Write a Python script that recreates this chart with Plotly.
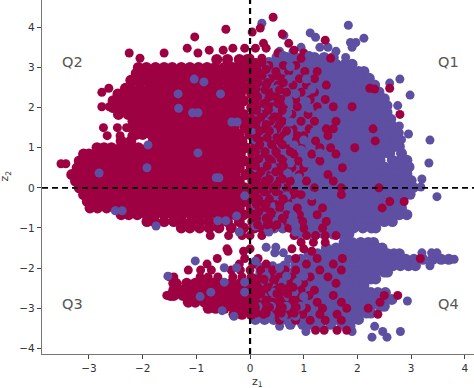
import plotly.graph_objects as go

# Each row: (z2, [z1 values])
blue_fill_rows = [
 (3.25,[0.5,0.68,0.85,1.02,1.2,1.38,1.55]),
 (3.08,[0.12,0.3,0.46,0.62,0.78,0.95,1.1,1.27,1.43,1.6,1.77,1.9]),
 (2.9,[0.2,0.36,0.53,0.7,0.86,1.02,1.18,1.35,1.52,1.68,1.85,2.02,2.12]),
 (2.73,[0.12,0.28,0.45,0.6,0.77,0.94,1.1,1.27,1.44,1.6,1.76,1.93,2.1,2.22]),
 (2.56,[0.2,0.37,0.53,0.69,0.86,1.02,1.19,1.35,1.52,1.68,1.85,2.01,2.18,2.32]),
 (2.39,[0.11,0.28,0.45,0.62,0.78,0.95,1.11,1.27,1.44,1.6,1.77,1.93,2.1,2.27,2.4]),
 (2.22,[0.2,0.36,0.53,0.7,0.86,1.03,1.19,1.35,1.52,1.69,1.85,2.02,2.18,2.35,2.5]),
 (2.05,[0.12,0.28,0.45,0.61,0.78,0.94,1.11,1.27,1.44,1.6,1.77,1.94,2.1,2.26,2.43,2.55]),
 (1.88,[0.2,0.37,0.53,0.7,0.86,1.03,1.19,1.36,1.52,1.68,1.85,2.02,2.18,2.32,2.42,2.55]),
 (1.71,[0.11,0.28,0.45,0.61,0.78,0.94,1.11,1.27,1.44,1.6,1.77,1.93,2.1,2.22,2.36,2.5,2.62]),
 (1.54,[0.2,0.36,0.53,0.69,0.86,1.02,1.19,1.35,1.52,1.68,1.85,2.02,2.16,2.3,2.38,2.5,2.65]),
 (1.37,[0.12,0.28,0.44,0.61,0.78,0.94,1.1,1.27,1.43,1.6,1.77,1.93,2.08,2.22,2.36,2.5,2.65]),
 (1.2,[0.2,0.36,0.53,0.7,0.86,1.02,1.19,1.35,1.52,1.68,1.85,2.01,2.15,2.3,2.42,2.55,2.72]),
 (1.03,[0.11,0.28,0.44,0.61,0.77,0.94,1.1,1.27,1.43,1.6,1.76,1.93,2.1,2.24,2.38,2.5,2.68,2.78]),
 (0.86,[0.2,0.36,0.53,0.69,0.86,1.02,1.19,1.35,1.52,1.68,1.85,2.01,2.18,2.32,2.46,2.6,2.82]),
 (0.69,[0.12,0.28,0.44,0.61,0.77,0.94,1.1,1.27,1.43,1.6,1.76,1.93,2.1,2.26,2.42,2.65,2.8,2.92]),
 (0.52,[0.2,0.36,0.53,0.69,0.86,1.02,1.19,1.35,1.52,1.68,1.85,2.01,2.18,2.34,2.5,2.67,2.85,2.96]),
 (0.35,[0.11,0.28,0.44,0.61,0.77,0.94,1.1,1.27,1.43,1.6,1.76,1.93,2.09,2.26,2.42,2.59,2.75,2.92]),
 (0.18,[0.2,0.36,0.53,0.69,0.86,1.02,1.19,1.35,1.52,1.68,1.85,2.01,2.18,2.34,2.5,2.67,2.83,3.0]),
 (0.01,[0.11,0.28,0.44,0.6,0.77,0.94,1.1,1.26,1.43,1.6,1.76,1.92,2.09,2.25,2.42,2.58,2.75,2.92,3.04]),
 (-0.16,[0.2,0.36,0.52,0.69,0.86,1.02,1.18,1.35,1.52,1.68,1.84,2.01,2.18,2.34,2.5,2.67,2.84,2.98]),
 (-0.33,[0.11,0.28,0.44,0.61,0.77,0.94,1.1,1.27,1.43,1.59,1.76,1.92,2.09,2.25,2.42,2.62,2.72,2.82]),
 (-0.5,[0.2,0.36,0.52,0.69,0.85,1.02,1.18,1.35,1.51,1.68,1.84,2.01,2.17,2.34,2.55,2.72,2.82]),
 (-0.67,[0.11,0.28,0.44,0.6,0.77,0.93,1.1,1.27,1.43,1.6,1.76,1.93,2.09,2.26,2.42,2.6,2.78,2.92]),
 (-0.84,[0.2,0.36,0.52,0.69,0.85,1.02,1.18,1.35,1.51,1.68,1.84,2.01,2.17,2.34,2.5,2.65]),
 (-1.0,[0.28,0.45,0.61,0.78,0.94,1.1,1.27,1.43,1.6,1.76,1.93,2.1,2.26,2.34]),
 (-1.15,[0.9,1.08,1.22,1.38,1.55,1.72,1.84]),
 (-1.36,[1.75,1.9,2.06,2.2,2.3]),
 (-1.5,[1.42,1.6,1.76,1.93,2.08,2.24,2.38,2.46]),
 (-1.64,[1.1,1.26,1.42,1.58,1.75,1.92,2.08,2.24,2.4,2.56,2.68,2.78]),
 (-1.78,[0.95,1.15,1.3,1.46,1.62,1.78,1.95,2.12,2.28,2.44,2.6,2.76,2.9,3.05,3.22,3.4,3.56,3.7]),
 (-1.94,[0.65,0.85,1.02,1.18,1.35,1.52,1.68,1.85,2.0,2.17,2.33,2.5,2.66,2.8,2.95,3.08]),
 (-2.1,[0.2,0.36,0.52,0.69,0.85,1.02,1.18,1.35,1.51,1.68,1.84,2.01,2.17,2.34,2.5,2.56]),
 (-2.27,[0.1,0.27,0.44,0.6,0.77,0.93,1.1,1.26,1.43,1.59,1.76,1.92,2.08,2.25,2.34]),
 (-2.44,[0.02,0.2,0.36,0.52,0.69,0.85,1.02,1.18,1.35,1.51,1.68,1.84,2.01,2.12]),
 (-2.61,[0.1,0.27,0.44,0.6,0.77,0.93,1.1,1.26,1.43,1.59,1.76,1.92,2.08,2.25,2.38,2.52]),
 (-2.78,[0.02,0.2,0.36,0.52,0.69,0.85,1.02,1.18,1.35,1.51,1.68,1.84,2.01,2.17,2.34,2.5,2.64]),
 (-2.95,[0.1,0.27,0.44,0.6,0.77,0.93,1.1,1.26,1.43,1.59,1.76,1.92,2.08,2.25,2.42,2.5]),
 (-3.12,[0.02,0.2,0.36,0.52,0.69,0.85,1.02,1.18,1.35,1.51,1.68,1.84,2.01,2.17,2.25]),
 (-3.28,[0.1,0.27,0.44,0.6,0.77,0.93,1.1,1.26,1.43,1.59,1.76,1.92,2.02]),
 (-3.4,[0.75,0.98,1.12,1.3,1.5,1.72]),
]

blue_dot_rows = [
 (4.1,[0.22]),(4.05,[1.83]),(3.86,[1.12]),(3.8,[0.63]),(3.75,[1.22]),(3.73,[2.12]),(3.62,[1.87,1.97]),
 (3.5,[0.95,1.3,1.45,1.9]),(3.4,[0.55,0.8,1.6]),(3.25,[1.78]),(3.15,[0.35,0.62,1.05]),
 (2.71,[2.79]),(2.61,[2.6]),(2.31,[2.98]),(2.05,[2.75]),(1.54,[2.78]),(1.37,[2.78]),(1.34,[2.95]),(1.2,[2.82]),(1.19,[3.35]),
 (0.62,[3.33]),(0.22,[3.2]),(0.02,[3.18]),(-0.22,[3.48]),
 (-1.48,[0.3,0.48]),(-1.62,[0.46,0.62,3.2,3.38,3.48]),(-1.78,[0.72,3.8]),(-1.94,[0.15,0.42,3.35]),
 (-2.82,[2.93]),(-3.45,[0.55,1.88,2.32]),(-3.58,[1.04,1.9,2.47,2.8]),(-3.72,[2.27,2.55]),
]

red_fill_rows = [
 (3.0,[-2.08,-1.93,-1.76,-1.6,-1.45,-1.28,-1.12,-0.96,-0.8,-0.65,-0.48,-0.32,-0.16,-0.02]),
 (3.2,[-0.62,-0.42,-0.2,-0.05]),
 (2.85,[-2.12,-2.02,-1.85,-1.69,-1.53,-1.37,-1.2,-1.04,-0.88,-0.72,-0.56,-0.4,-0.23,-0.07,0.05]),
 (2.68,[-2.22,-2.12,-1.95,-1.78,-1.62,-1.46,-1.3,-1.14,-0.97,-0.81,-0.65,-0.48,-0.32,-0.16,0.02]),
 (2.48,[-2.32,-2.22,-2.05,-1.88,-1.72,-1.56,-1.4,-1.23,-1.07,-0.9,-0.74,-0.58,-0.41,-0.25,-0.08,0.08]),
 (2.34,[-2.46,-2.32,-2.15,-1.98,-1.82,-1.65,-1.49,-1.33,-1.17,-1.0,-0.84,-0.68,-0.52,-0.35,-0.18,0.03]),
 (2.17,[-2.55,-2.42,-2.25,-2.08,-1.92,-1.76,-1.6,-1.43,-1.27,-1.1,-0.94,-0.78,-0.62,-0.45,-0.28,-0.12,0.08]),
 (2.0,[-2.55,-2.48,-2.32,-2.17,-2.0,-1.84,-1.68,-1.52,-1.36,-1.19,-1.03,-0.87,-0.7,-0.54,-0.38,-0.2,0.03]),
 (1.83,[-2.45,-2.27,-2.1,-1.93,-1.77,-1.6,-1.44,-1.28,-1.11,-0.95,-0.79,-0.62,-0.46,-0.3,-0.12,0.08]),
 (1.66,[-2.18,-2.03,-1.87,-1.7,-1.53,-1.37,-1.2,-1.04,-0.88,-0.71,-0.55,-0.39,-0.22,-0.05,0.1]),
 (1.5,[-2.2,-2.1,-1.93,-1.77,-1.6,-1.44,-1.28,-1.11,-0.95,-0.79,-0.62,-0.46,-0.3,-0.1,0.08]),
 (1.33,[-2.12,-2.0,-1.84,-1.67,-1.5,-1.34,-1.18,-1.02,-0.85,-0.69,-0.53,-0.36,-0.2,0.0]),
 (1.17,[-2.4,-2.22,-1.8,-1.62,-1.46,-1.3,-1.13,-0.97,-0.8,-0.64,-0.48,-0.31,-0.15,0.08]),
 (1.0,[-2.85,-2.72,-2.58,-2.41,-2.25,-2.08,-1.9,-1.72,-1.56,-1.4,-1.23,-1.07,-0.9,-0.74,-0.58,-0.41,-0.25,-0.08,0.1]),
 (0.84,[-3.1,-3.0,-2.83,-2.66,-2.5,-2.33,-2.17,-2.0,-1.84,-1.67,-1.5,-1.34,-1.17,-1.01,-0.85,-0.68,-0.52,-0.35,-0.18,0.05]),
 (0.67,[-3.18,-3.08,-2.92,-2.75,-2.58,-2.42,-2.25,-2.09,-1.93,-1.76,-1.6,-1.43,-1.27,-1.1,-0.94,-0.77,-0.61,-0.44,-0.28,-0.1,0.08]),
 (0.5,[-3.22,-3.17,-3.0,-2.84,-2.67,-2.5,-2.34,-2.18,-2.01,-1.85,-1.68,-1.52,-1.35,-1.19,-1.02,-0.86,-0.69,-0.53,-0.36,-0.2,0.02]),
 (0.33,[-3.32,-3.22,-3.08,-2.92,-2.75,-2.59,-2.42,-2.26,-2.09,-1.93,-1.76,-1.6,-1.43,-1.27,-1.1,-0.94,-0.77,-0.61,-0.44,-0.28,-0.08,0.1]),
 (0.17,[-3.25,-3.17,-3.0,-2.84,-2.67,-2.51,-2.34,-2.18,-2.01,-1.85,-1.68,-1.52,-1.35,-1.19,-1.02,-0.86,-0.69,-0.53,-0.36,-0.2,0.05]),
 (0.0,[-3.18,-3.08,-2.92,-2.75,-2.59,-2.42,-2.26,-2.09,-1.93,-1.76,-1.6,-1.43,-1.27,-1.1,-0.94,-0.77,-0.61,-0.44,-0.28,-0.1,0.08]),
 (-0.17,[-3.1,-3.0,-2.84,-2.67,-2.51,-2.34,-2.18,-2.01,-1.85,-1.68,-1.52,-1.35,-1.19,-1.02,-0.86,-0.69,-0.53,-0.36,-0.2,0.0]),
 (-0.34,[-3.03,-2.92,-2.75,-2.59,-2.42,-2.26,-2.09,-1.93,-1.76,-1.6,-1.43,-1.27,-1.1,-0.94,-0.77,-0.61,-0.44,-0.28,-0.1,0.05]),
 (-0.5,[-2.98,-2.84,-2.67,-2.51,-2.34,-2.18,-2.01,-1.85,-1.68,-1.52,-1.35,-1.19,-1.02,-0.86,-0.69,-0.53,-0.36,-0.2,0.02]),
 (-0.67,[-2.4,-2.26,-2.1,-1.93,-1.77,-1.6,-1.44,-1.27,-1.1,-0.94,-0.78,-0.61,-0.44,-0.28,-0.12,0.05]),
 (-0.84,[-1.92,-1.78,-1.6,-1.42,-1.27,-1.1,-0.94,-0.77,-0.6,-0.42,-0.2,0.05]),
 (-1.0,[-1.28,-1.12,-0.94,-0.76,-0.58,-0.35,-0.12,0.08]),
 (-2.38,[-1.42,-1.38,-1.18,-1.02,-0.85,-0.68,-0.52,-0.35,-0.18,0.0]),
 (-2.55,[-1.42,-1.3,-1.13,-0.96,-0.8,-0.64,-0.47,-0.3,-0.13,0.05]),
 (-2.68,[-1.48,-1.42,-1.25,-1.08,-0.92,-0.75,-0.58,-0.42,-0.25,-0.08,0.05]),
 (-2.85,[-1.15,-1.02,-0.85,-0.68,-0.52,-0.35,-0.18,-0.02]),
 (-3.0,[-0.78,-0.64,-0.48,-0.3,-0.12,0.06]),
 (-3.15,[-0.3,-0.15,0.02]),
]

red_dot_rows = [
 (4.25,[0.43]),(3.98,[0.19]),(3.95,[-0.45]),(3.88,[0.04]),(3.83,[0.6]),(3.76,[-1.03]),(3.68,[1.4]),
 (3.6,[0.25,0.72]),(3.48,[-1.17,-0.32,-0.1,0.1,0.3]),(3.43,[-0.76,-0.5,0.82]),(3.36,[-2.25,-1.6,-0.97,0.52,1.0]),
 (3.23,[-2.05,0.0,0.22,0.95,1.5]),(3.05,[0.12,0.35,0.62,0.85]),(2.9,[0.22,0.48,0.72,1.02,1.25]),
 (2.72,[0.12,0.38,0.6,0.92,1.2]),(2.56,[0.3,0.52,0.8,1.05,1.42]),(2.48,[-2.63,2.23,2.6]),(2.46,[2.32]),
 (2.38,[-2.76,0.15,0.42,0.68,0.95,1.2]),(2.2,[0.3,0.58,0.85,1.12,1.4]),(2.02,[-2.76,-2.62,0.12,0.4,0.62,0.88,1.25,1.55,1.9]),
 (1.83,[0.25,0.52,0.78,1.08,2.79]),(1.66,[0.12,0.38,0.6,0.95,1.2,1.6]),(1.5,[-2.73,-2.47,-2.3]),(1.47,[0.28,0.5,0.8,1.1,1.42,1.55,2.29]),
 (1.3,[-2.66,-2.42,-2.2,0.12,0.4,0.62,0.88,1.0,1.45]),(1.17,[0.25,0.55,0.85,1.22,2.33]),(1.0,[0.12,0.42,0.68,0.95,1.3,1.5,1.95]),
 (0.84,[0.25,0.52,0.82,1.15,1.6]),(0.67,[0.12,0.4,0.62,0.9,1.3]),(0.6,[-3.52,-3.43]),(0.5,[0.25,0.52,0.78,1.0,1.72]),
 (0.33,[0.15,0.38,0.62,0.92,1.45]),(0.17,[0.28,0.52,0.75,1.05,1.55]),(0.0,[0.18,0.42,0.68,1.2,1.7,2.4]),
 (-0.17,[0.12,0.32,0.55,0.8,0.95,1.7]),(-0.34,[0.2,0.42,0.7,1.15,2.87,2.6]),(-0.5,[0.1,0.28,0.55,0.88,1.35,2.46]),
 (-0.67,[0.15,0.42,0.68,0.92,1.25]),(-0.84,[0.12,0.35,0.6,0.98,1.42]),
 (-1.0,[0.18,0.4,0.72,1.0,1.35]),(-1.19,[-0.74,-0.4,-0.15,0.0,0.22,0.82,1.05,1.22,1.4,1.6]),
 (-1.36,[0.95,1.18,1.4]),(-1.52,[-0.43,0.0,0.78,1.0]),(-1.58,[-0.41,-0.12,1.15]),
 (-1.76,[-0.61,-0.1,0.15,0.85,1.25,1.72,3.17]),(-1.9,[-0.8,-0.2,0.05,0.3,1.05,1.55]),
 (-2.05,[-1.15,-0.92,-0.72,-0.35,-0.18,0.0,0.2,0.42,0.65,0.85,1.3,1.7]),
 (-2.22,[-1.5,-1.42,-0.93,-0.78,-0.6,-0.32,-0.15,0.02,0.2,0.38,0.55,0.78,1.12,1.45]),
 (-2.38,[0.18,0.35,0.55,0.72,1.0,1.6]),(-2.55,[0.25,0.48,0.7,0.95,1.2]),
 (-2.68,[-1.55,0.12,0.32,0.58,0.85,1.1,1.55,2.5,2.75]),(-2.85,[0.2,0.42,0.65,0.9,1.25,1.7,2.42]),
 (-3.0,[0.28,0.52,0.78,1.05,1.35,1.8,2.2]),(-3.15,[0.25,0.48,0.7,0.98,1.3,1.62,2.38]),
 (-3.3,[0.55,0.85,1.12,1.4,1.7]),(-3.55,[1.22,1.38,1.62,1.8]),
]

blue_top_rows = [
 (3.3,[0.62,1.1]),(3.02,[0.28,0.75]),(2.71,[-1.04,0.28,0.72,1.05]),(2.64,[-0.86]),(2.46,[0.5,1.15]),
 (2.34,[-1.34,-0.55,0.22,0.85]),(2.15,[0.2,0.72,1.05]),(1.98,[-1.33,0.5,1.1]),
 (1.87,[-0.97,-1.07,0.15,0.7,1.3]),(1.64,[-0.34,-0.24,0.28,0.75]),(1.4,[0.1,0.42,0.72,1.2]),
 (1.19,[0.1,0.4,0.7,1.0]),(1.07,[-1.9,0.28,0.82]),(0.95,[0.38,0.95]),(0.87,[-0.97,0.12,0.65,1.3]),
 (0.62,[0.25,0.75,1.05]),(0.5,[-1.92,0.12,0.42,1.2]),(0.37,[-2.81,0.7,1.2]),(0.25,[-0.63,-0.58,0.4,0.9]),
 (0.05,[0.3,0.55,0.9]),(-0.2,[-0.1,0.22,0.45,0.68,1.15]),(-0.45,[0.1,0.4,0.72]),(-0.57,[-2.51,-2.38]),
 (-0.7,[-0.25,0.25,0.55,0.8]),(-0.82,[-0.6,-0.45,0.22,0.5,0.78]),(-0.95,[-1.75,0.1,0.55,0.85]),
 (-1.1,[-0.2,0.35,0.85]),(-1.82,[-1.02,0.1]),(-1.99,[-0.48,-0.25,0.55]),(-2.2,[-1.53,0.3,0.68,1.0]),
 (-2.35,[-0.48,-0.1,0.28,0.6,0.88]),(-2.6,[-0.73,-0.1,0.42,0.82]),(-2.71,[-0.93,0.25,0.7,1.0]),
 (-2.95,[0.15,0.4,0.68,0.95]),(-3.06,[-0.52]),(-3.2,[-0.3,0.38,0.62,0.85]),
]

red_mix_rows = [
 (3.12,[0.1,0.22]),(2.95,[0.12,0.3]),(2.8,[0.08,0.22,0.5]),(2.62,[0.15,0.32,0.62]),(2.44,[0.1,0.28,0.55]),
 (2.27,[0.14,0.36,0.48]),(2.1,[0.1,0.26,0.52]),(1.93,[0.12,0.34,0.6]),(1.76,[0.2,0.45]),(1.58,[0.1,0.3,0.55]),
 (1.42,[0.18,0.36,0.68]),(1.25,[0.12,0.32,0.5]),(1.08,[0.18,0.4,0.6]),(0.9,[0.1,0.28,0.48,0.75]),
 (0.72,[0.16,0.36,0.58]),(0.55,[0.1,0.32,0.62]),(0.4,[0.2,0.48]),(0.22,[0.12,0.36,0.6]),(0.06,[0.14,0.3,0.5]),
 (-0.1,[0.1,0.26,0.48,0.82]),(-0.28,[0.16,0.36,0.62]),(-0.42,[0.12,0.3,0.55]),(-0.6,[0.16,0.38]),
 (-0.76,[0.12,0.3,0.6]),(-0.92,[0.14,0.32,0.5]),
 (-2.28,[0.08,0.26,0.46]),(-2.48,[0.14,0.32,0.58,0.8]),(-2.64,[0.08,0.2,0.5,0.7]),(-2.8,[0.1,0.3,0.56,0.8]),
 (-2.98,[0.1,0.36,0.6,0.86]),(-3.12,[0.12,0.3,0.58,0.82]),
]

tick_x = [-3, -2, -1, 0, 1, 2, 3, 4]
tick_y = [-4, -3, -2, -1, 0, 1, 2, 3, 4]
quadrants = [("Q1", 3.7, 3.13), ("Q2", -3.31, 3.13), ("Q3", -3.31, -2.89), ("Q4", 3.7, -2.89)]
RED = "#9e0142"
BLUE = "#5e4fa2"


def flatten(rows):
    xs, ys = [], []
    for y, row in rows:
        for x in row:
            xs.append(x)
            ys.append(y)
    return xs, ys


fig = go.Figure()
layers = [(blue_fill_rows, BLUE, 11), (blue_dot_rows, BLUE, 9), (red_fill_rows, RED, 11),
          (red_dot_rows, RED, 9), (blue_top_rows, BLUE, 9), (red_mix_rows, RED, 9)]
for rows, col, size in layers:
    xs, ys = flatten(rows)
    fig.add_trace(go.Scatter(x=xs, y=ys, mode="markers", showlegend=False,
                             marker=dict(color=col, size=size, line=dict(width=0))))

fig.add_hline(y=0, line=dict(color="black", width=1.6, dash="6px,4px"))
fig.add_vline(x=0, line=dict(color="black", width=2.2, dash="6px,4px"))

for label, qx, qy in quadrants:
    fig.add_annotation(x=qx, y=qy, text=label, showarrow=False,
                       font=dict(size=14.5, color="#555555"))
fig.add_annotation(x=0.13, y=0, yref="paper", yanchor="middle", yshift=-28, text="z<sub>1</sub>", showarrow=False,
                   font=dict(size=11, color="#333333"))
fig.add_annotation(x=0, xref="paper", xanchor="center", xshift=-37, y=0.28, text="z<sub>2</sub>", showarrow=False, textangle=-90,
                   font=dict(size=11, color="#333333"))

axis = dict(showgrid=False, zeroline=False, showline=True, linecolor="#777777", linewidth=1.2, automargin=False,
            ticks="outside", ticklen=4, tickcolor="#444444", tickwidth=1, tickfont=dict(size=10.5, color="#333333"))
fig.update_xaxes(range=[-3.874, 4.17], tickvals=tick_x, ticktext=["−3", "−2", "−1", "0", "1", "2", "3", "4"], **axis)
fig.update_yaxes(range=[-4.14, 4.68], tickvals=tick_y, ticktext=["−4", "−3", "−2", "−1", "0", "1", "2", "3", "4"], **axis)
fig.update_layout(width=474, height=388, margin=dict(l=42, r=0, t=0, b=33.5),
                  plot_bgcolor="white", paper_bgcolor="white",
                  font=dict(family="DejaVu Sans"), showlegend=False)
fig.write_html("out.html", config=dict(displayModeBar=False),
               post_script="document.body.style.margin='0';document.documentElement.style.overflow='hidden';")
